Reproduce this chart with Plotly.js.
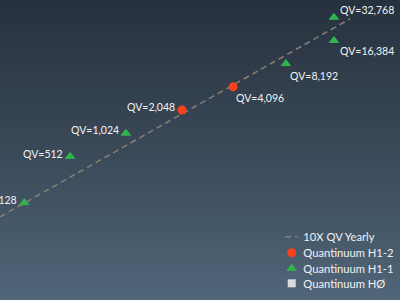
<!DOCTYPE html>
<html>
<head>
<meta charset="utf-8">
<script src="https://cdn.plot.ly/plotly-3.0.1.min.js"></script>
<style>
  html, body { margin: 0; padding: 0; }
  body { width: 400px; height: 300px; background: linear-gradient(to bottom, #27313e 0%, #3a4958 50%, #506679 100%); overflow: hidden; }
  #chart { width: 400px; height: 300px; }
</style>
</head>
<body>
<div id="chart"></div>
<script>
// Trend line: ten-fold quantum volume per year
const trendDates = ['2020-07-27', '2023-03-08'];
const trendQV = [84, 31300];

// Quantinuum H1-2 results
const h12Dates = ['2021-12-05', '2022-04-23'];
const h12QV = [2048, 4096];
const h12Labels = ['QV=2,048', 'QV=4,096'];

// Quantinuum H1-1 results
const h11Dates = ['2020-10-01', '2021-02-03', '2021-07-05', '2022-09-14', '2023-01-23', '2023-01-23'];
const h11QV = [128, 512, 1024, 8192, 16384, 32768];
const h11Labels = ['QV=128', 'QV=512', 'QV=1,024', 'QV=8,192', 'QV=16,384', 'QV=32,768'];

// Quantinuum HØ result (earlier than the shown window)
const h0Dates = ['2020-06-01'];
const h0QV = [64];

const FONT = 'Lato, "Open Sans", sans-serif';
const TEXT_COLOR = '#f2f2f2';

// Label placement next to each marker: anchor side and pixel offsets
const h12Place = [
  { side: 'right', dx: -7.5, dy: 3.5 },
  { side: 'left', dx: 2.5, dy: -11.4 }
];
const h11Place = [
  { side: 'right', dx: -7.3, dy: 3 },
  { side: 'right', dx: -7.3, dy: 2.5 },
  { side: 'right', dx: -6.7, dy: 3.3 },
  { side: 'left', dx: 4, dy: -12.5 },
  { side: 'left', dx: 6, dy: -10.3 },
  { side: 'left', dx: 6, dy: 7.5 }
];

function labelAnnotations(dates, values, labels, place) {
  return dates.map((d, i) => ({
    x: d, y: Math.log10(values[i]), xref: 'x', yref: 'y',
    text: labels[i], showarrow: false,
    xanchor: place[i].side, yanchor: 'middle',
    xshift: place[i].dx, yshift: place[i].dy,
    borderpad: 0, borderwidth: 0,
    font: { family: FONT, size: 10.5, color: TEXT_COLOR }
  }));
}

const traces = [
  {
    name: '10X QV Yearly', x: trendDates, y: trendQV, mode: 'lines', type: 'scatter',
    line: { color: '#8c7f74', width: 1.5, dash: '6px,4px' }, hoverinfo: 'skip'
  },
  {
    name: 'Quantinuum H1-2', x: h12Dates, y: h12QV, mode: 'markers', type: 'scatter',
    marker: { symbol: 'circle', size: 9, color: '#f5421d' }
  },
  {
    name: 'Quantinuum H1-1', x: h11Dates, y: h11QV, mode: 'markers', type: 'scatter',
    marker: { symbol: 'triangle-up', size: 8, color: '#2fb54c', line: { color: '#2fb54c', width: 1 } }
  },
  {
    name: 'Quantinuum HØ', x: h0Dates, y: h0QV, mode: 'markers', type: 'scatter',
    marker: { symbol: 'square', size: 8, color: '#dcdcdc' }
  }
];

const layout = {
  width: 400, height: 300,
  margin: { l: 0, r: 0, t: 0, b: 0, autoexpand: false },
  paper_bgcolor: 'rgba(0,0,0,0)',
  plot_bgcolor: 'rgba(0,0,0,0)',
  font: { family: FONT, size: 11, color: TEXT_COLOR },
  showlegend: true,
  legend: {
    x: 0.679, y: 0.02, xanchor: 'left', yanchor: 'bottom',
    bgcolor: 'rgba(0,0,0,0)', font: { family: FONT, size: 11.2, color: TEXT_COLOR },
    itemwidth: 30, tracegroupgap: 0
  },
  annotations: [
    ...labelAnnotations(h12Dates, h12QV, h12Labels, h12Place),
    ...labelAnnotations(h11Dates, h11QV, h11Labels, h11Place)
  ],
  xaxis: {
    type: 'date', range: ['2020-07-27', '2023-07-22'],
    visible: false, showgrid: false, zeroline: false
  },
  yaxis: {
    type: 'log', range: [0.844, 4.740],
    visible: false, showgrid: false, zeroline: false
  }
};

// Compact legend: tighter rows, short dash sample, text close to the symbol
const LEGEND_SYMBOL_X = 291.7;
const LEGEND_TEXT_X = 303.3;
const LEGEND_ROW_Y = [236.7, 252.7, 268.3, 283.3];

function translateOf(el) {
  const m = /translate\(\s*([-\d.]+)[ ,]+([-\d.]+)\s*\)/.exec(el.getAttribute('transform') || '');
  return m ? [parseFloat(m[1]), parseFloat(m[2])] : [0, 0];
}

function compactLegend() {
  const legend = document.querySelector('.legend');
  if (!legend) return;
  let ox = 0, oy = 0;
  let node = legend;
  while (node && node.tagName && node.tagName.toLowerCase() !== 'svg') {
    const t = translateOf(node);
    ox += t[0]; oy += t[1];
    node = node.parentNode;
  }
  legend.querySelectorAll('.scrollbox, .groups').forEach(g => {
    const t = translateOf(g); ox += t[0]; oy += t[1];
  });
  legend.querySelectorAll('[clip-path]').forEach(g => g.removeAttribute('clip-path'));
  legend.removeAttribute('clip-path');
  legend.querySelectorAll('g.traces').forEach((g, i) => {
    const tx = LEGEND_SYMBOL_X - 20 - ox;
    const ty = LEGEND_ROW_Y[i] - oy;
    g.setAttribute('transform', 'translate(' + tx + ',' + ty + ')');
    const txt = g.querySelector('text.legendtext');
    if (txt) txt.setAttribute('x', LEGEND_TEXT_X - LEGEND_SYMBOL_X + 20);
    g.querySelectorAll('.legendlines path').forEach(p => p.setAttribute('d', 'M13.5,0h12'));
  });
}

Plotly.newPlot('chart', traces, layout, { staticPlot: true, displayModeBar: false }).then(compactLegend);
</script>
</body>
</html>
